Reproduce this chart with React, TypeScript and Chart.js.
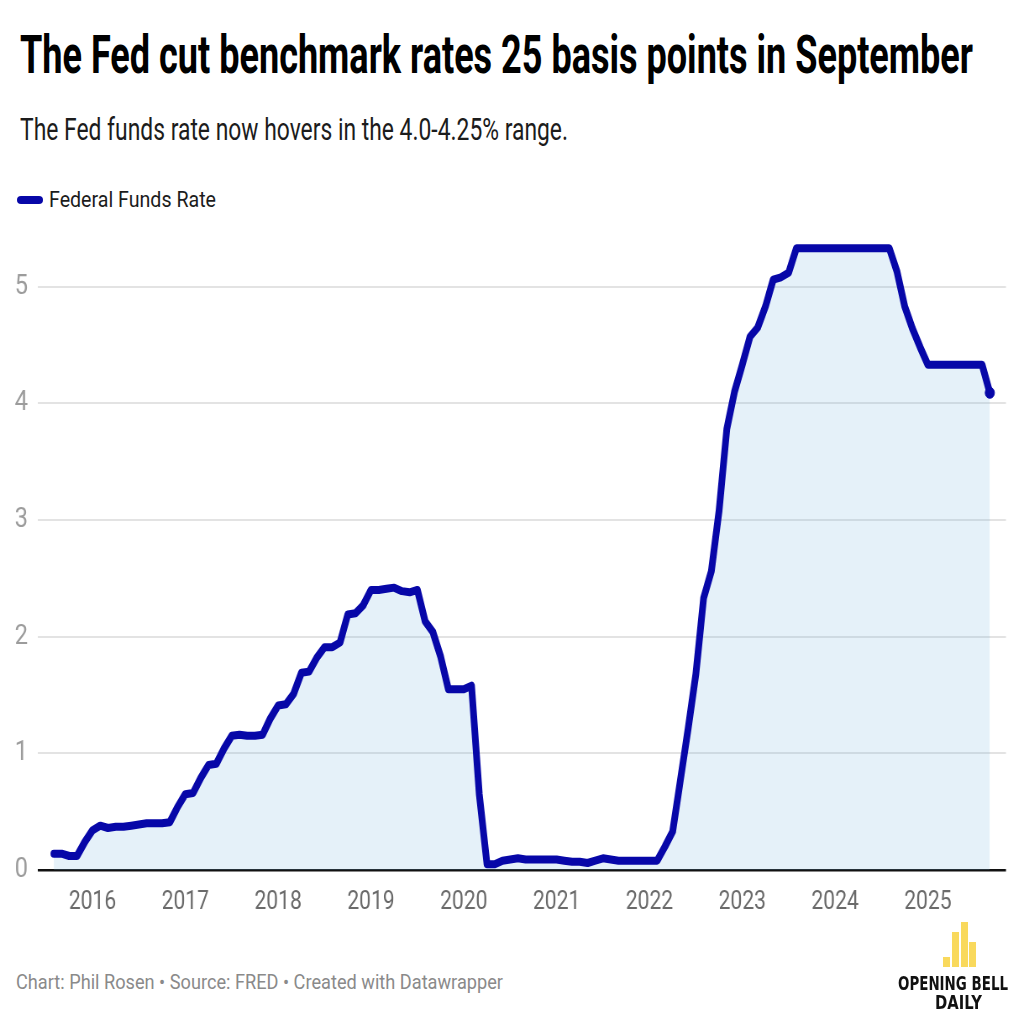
import React, { useEffect, useLayoutEffect, useRef } from 'react';
import { Chart, registerables } from 'chart.js';

Chart.register(...registerables);

// ---- Data: monthly effective Federal Funds Rate (%), Aug 2015 – Sep 2025 ----
const firstYear = 2015;
const firstMonth = 8; // August
const rates2015 = [0.14, 0.14, 0.12, 0.12, 0.24];
const rates2016 = [0.34, 0.38, 0.36, 0.37, 0.37, 0.38, 0.39, 0.4, 0.4, 0.4, 0.41, 0.54];
const rates2017 = [0.65, 0.66, 0.79, 0.9, 0.91, 1.04, 1.15, 1.16, 1.15, 1.15, 1.16, 1.3];
const rates2018 = [1.41, 1.42, 1.51, 1.69, 1.7, 1.82, 1.91, 1.91, 1.95, 2.19, 2.2, 2.27];
const rates2019 = [2.4, 2.4, 2.41, 2.42, 2.39, 2.38, 2.4, 2.13, 2.04, 1.83, 1.55, 1.55];
const rates2020 = [1.55, 1.58, 0.65, 0.05, 0.05, 0.08, 0.09, 0.1, 0.09, 0.09, 0.09, 0.09];
const rates2021 = [0.09, 0.08, 0.07, 0.07, 0.06, 0.08, 0.1, 0.09, 0.08, 0.08, 0.08, 0.08];
const rates2022 = [0.08, 0.08, 0.2, 0.33, 0.77, 1.21, 1.68, 2.33, 2.56, 3.08, 3.78, 4.1];
const rates2023 = [4.33, 4.57, 4.65, 4.83, 5.06, 5.08, 5.12, 5.33, 5.33, 5.33, 5.33, 5.33];
const rates2024 = [5.33, 5.33, 5.33, 5.33, 5.33, 5.33, 5.33, 5.33, 5.13, 4.83, 4.64, 4.48];
const rates2025 = [4.33, 4.33, 4.33, 4.33, 4.33, 4.33, 4.33, 4.33, 4.09];
const ratesByYear = [
  rates2015, rates2016, rates2017, rates2018, rates2019, rates2020,
  rates2021, rates2022, rates2023, rates2024, rates2025,
];

const yearTicks = [2016, 2017, 2018, 2019, 2020, 2021, 2022, 2023, 2024, 2025];
const rateTicks = [0, 1, 2, 3, 4, 5];

const seriesLabel = 'Federal Funds Rate';
const titleText = 'The Fed cut benchmark rates 25 basis points in September';
const subtitleText = 'The Fed funds rate now hovers in the 4.0-4.25% range.';
const footerText = 'Chart: Phil Rosen • Source: FRED • Created with Datawrapper';

// Build {x: decimal year, y: rate}
const points: { x: number; y: number }[] = [];
ratesByYear.forEach((arr, i) => {
  const year = firstYear + i;
  const startM = i === 0 ? firstMonth : 1;
  arr.forEach((v, j) => points.push({ x: year + (startM - 1 + j) / 12, y: v }));
});

// ---- Layout constants ----
const LINE_COLOR = '#0707a8';
const SQUEEZE = 0.84;
const CW = 1219;
const CH = 720;
const X_MIN = 2015.413;
const X_MAX = 2025.841;

function FitText(props: {
  text: string;
  left: number;
  top: number;
  width: number;
  style: React.CSSProperties;
}) {
  const ref = useRef<HTMLSpanElement>(null);
  useLayoutEffect(() => {
    const el = ref.current;
    if (!el) return;
    el.style.transform = 'none';
    const w = el.getBoundingClientRect().width;
    if (w > 0) el.style.transform = `scaleX(${props.width / w})`;
  }, [props.text, props.width]);
  return (
    <span
      ref={ref}
      style={{
        position: 'absolute',
        left: props.left,
        top: props.top,
        whiteSpace: 'nowrap',
        display: 'inline-block',
        transformOrigin: '0 0',
        lineHeight: 1,
        ...props.style,
      }}
    >
      {props.text}
    </span>
  );
}

function RateChart() {
  const ref = useRef<HTMLCanvasElement>(null);
  useEffect(() => {
    const canvas = ref.current;
    if (!canvas) return;
    const last = points.length - 1;
    const chart = new Chart(canvas, {
      type: 'line',
      data: {
        datasets: [
          {
            label: seriesLabel,
            data: points,
            borderColor: LINE_COLOR,
            borderWidth: 8,
            borderJoinStyle: 'round',
            borderCapStyle: 'round',
            backgroundColor: 'rgba(125,185,225,0.2)',
            fill: 'origin',
            tension: 0,
            pointRadius: (c: any) => (c.dataIndex === last ? 5.5 : 0),
            pointBackgroundColor: LINE_COLOR,
            pointBorderColor: LINE_COLOR,
            pointBorderWidth: 1,
            pointHoverRadius: 0,
          },
        ],
      },
      options: {
        animation: false,
        responsive: false,
        devicePixelRatio: 1,
        events: [],
        layout: { padding: { top: 8.3, right: 21.4, left: 0, bottom: 0 } },
        plugins: { legend: { display: false }, tooltip: { enabled: false } },
        scales: {
          x: {
            type: 'linear',
            min: X_MIN,
            max: X_MAX,
            grid: { display: false, drawTicks: false },
            border: { display: false },
            afterBuildTicks: (axis: any) => {
              axis.ticks = yearTicks.map((v) => ({ value: v }));
            },
            afterFit: (axis: any) => {
              axis.height = 70;
              axis.paddingLeft = 0;
              axis.paddingRight = 0;
            },
            ticks: {
              padding: 18,
              color: '#6a6a6a',
              autoSkip: false,
              maxRotation: 0,
              font: { family: 'Roboto', size: 25 },
              callback: (v: any) => String(v),
            },
          },
          y: {
            type: 'linear',
            min: 0,
            max: 5.5,
            afterBuildTicks: (axis: any) => {
              axis.ticks = rateTicks.map((v) => ({ value: v }));
            },
            afterFit: (axis: any) => {
              axis.width = 45.24;
              axis.paddingTop = 0;
              axis.paddingBottom = 0;
            },
            grid: {
              drawTicks: false,
              color: (c: any) => (c.tick && c.tick.value === 0 ? '#111111' : '#e3e3e3'),
              lineWidth: (c: any) => (c.tick && c.tick.value === 0 ? 2.5 : 2),
            },
            border: { display: false },
            ticks: {
              padding: 12,
              color: '#9c9c9c',
              font: { family: 'Roboto', size: 28 },
              callback: (v: any) => String(v),
            },
          },
        },
      },
    } as any);
    return () => chart.destroy();
  }, []);
  return (
    <div
      style={{
        position: 'absolute',
        left: 0,
        top: 220,
        width: CW,
        height: CH,
        transform: `scaleX(${SQUEEZE})`,
        transformOrigin: '0 0',
      }}
    >
      <canvas ref={ref} width={CW} height={CH} style={{ width: CW, height: CH, display: 'block' }} />
    </div>
  );
}

function Logo() {
  const bars = [
    { left: 943, top: 957, h: 10 },
    { left: 952, top: 932, h: 35 },
    { left: 961, top: 922, h: 45 },
    { left: 969, top: 942, h: 25 },
  ];
  return (
    <>
      {bars.map((b, i) => (
        <div
          key={i}
          style={{ position: 'absolute', left: b.left, top: b.top, width: 7, height: b.h, background: '#f9d95c' }}
        />
      ))}
      <FitText
        text="OPENING BELL"
        left={898}
        top={974}
        width={110}
        style={{ fontFamily: 'DejaVu Sans', fontWeight: 700, fontSize: 19, color: '#111' }}
      />
      <FitText
        text="DAILY"
        left={935}
        top={993}
        width={47}
        style={{ fontFamily: 'DejaVu Sans', fontWeight: 700, fontSize: 19, color: '#111' }}
      />
    </>
  );
}

export default function App() {
  return (
    <div
      style={{
        position: 'fixed',
        left: 0,
        top: 0,
        width: 1024,
        height: 1024,
        overflow: 'hidden',
        background: '#ffffff',
        fontFamily: 'Roboto, sans-serif',
      }}
    >
      <FitText
        text={titleText}
        left={20}
        top={28}
        width={953}
        style={{ fontWeight: 700, fontSize: 54, color: '#000' }}
      />
      <FitText
        text={subtitleText}
        left={20}
        top={113.6}
        width={548}
        style={{ fontWeight: 400, fontSize: 31, color: '#1c1c1c' }}
      />
      <div
        style={{
          position: 'absolute',
          left: 17,
          top: 196,
          width: 26,
          height: 8,
          borderRadius: 4,
          background: LINE_COLOR,
        }}
      />
      <FitText
        text={seriesLabel}
        left={49}
        top={189}
        width={167}
        style={{ fontWeight: 400, fontSize: 22, color: '#1c1c1c' }}
      />
      <RateChart />
      <FitText
        text={footerText}
        left={16}
        top={972}
        width={487}
        style={{ fontWeight: 400, fontSize: 21, color: '#8a8a8a' }}
      />
      <Logo />
    </div>
  );
}
